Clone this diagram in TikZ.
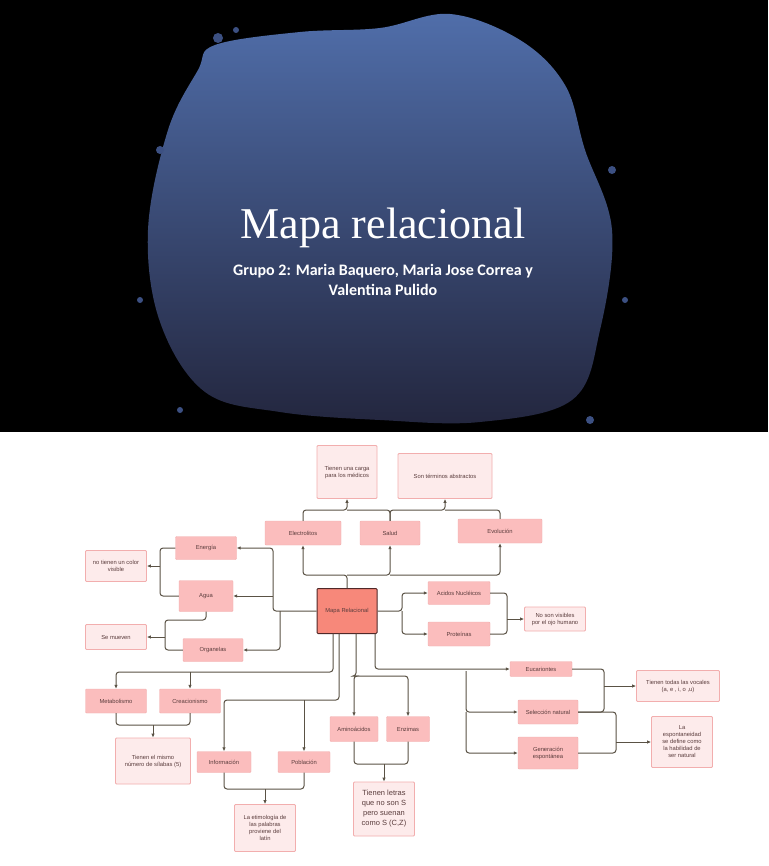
\documentclass[tikz,border=0pt]{standalone}
\usepackage{fontspec}
\setmainfont{Liberation Serif}
\newfontfamily\subf{Carlito}
\newfontfamily\mapf{Liberation Sans}
\usetikzlibrary{arrows.meta}
\definecolor{bfill}{HTML}{FBBDBD}
\definecolor{lfill}{HTML}{FDEBEB}
\definecolor{bdr}{HTML}{F2AEAE}
\definecolor{lne}{HTML}{5A5245}
\definecolor{txt}{HTML}{5A3C3C}
\definecolor{core}{HTML}{F7887A}
\definecolor{coredr}{HTML}{502828}
\definecolor{blobtop}{HTML}{506EAA}
\definecolor{blobbot}{HTML}{23263E}
\definecolor{speck}{HTML}{3C5082}
\tikzset{
 bx/.style={draw=bdr,fill=bfill,rounded corners=1pt,minimum width=#1,inner sep=1pt,align=center,text=txt,font=\mapf\fontsize{5.8}{7}\selectfont},
 lb/.style={bx=#1,fill=lfill,line width=0.8pt},
 ln/.style={draw=lne,line width=1pt,rounded corners=3pt},
 ar/.style={ln,-{Latex[length=4pt,width=3.5pt]}}
}
\begin{document}
\begin{tikzpicture}[x=1pt,y=-1pt]
\useasboundingbox (0,0) rectangle (768,866);
\fill[black] (0,0) rectangle (768,432);
\shade[top color=blobtop, bottom color=blobbot]
 plot[smooth cycle,tension=0.6] coordinates {(215,45) (300,32) (380,28) (450,14) (520,40) (565,85) (585,150) (612,230) (600,330) (572,400) (480,422) (380,420) (280,412) (205,392) (160,322) (148,230) (168,130) (198,70)};
\foreach \p/\r in {{(218,38)/5},{(236,30)/3},{(160,150)/4},{(612,170)/4},{(140,300)/3},{(625,300)/3},{(590,420)/4},{(180,410)/3}} \fill[speck] \p circle (\r);
\node[text=white,font=\fontsize{44}{48}\selectfont] (title) at (383,228) {Mapa relacional};
\node[text=white,font=\subf\bfseries\fontsize{16}{20}\selectfont,align=center] (sub) at (383,280) {Grupo 2: Maria Baquero, Maria Jose Correa y\\Valentina Pulido};
\fill[white] (0,432) rectangle (768,866);
% nodes
\node[lb=60pt,minimum height=53pt] (carga) at (347,472) {Tienen una carga\\para los médicos};
\node[lb=94pt,minimum height=45pt] (abst) at (445,476) {Son términos abstractos};
\node[bx=76pt,minimum height=24pt] (elec) at (303,533) {Electrolitos};
\node[bx=60pt,minimum height=24pt] (salud) at (390,533) {Salud};
\node[bx=84pt,minimum height=24pt] (evol) at (500,531) {Evolución};
\node[bx=61pt,minimum height=23pt] (ener) at (206,548) {Energía};
\node[lb=61pt,minimum height=31pt] (color) at (116,566) {no tienen un color\\visible};
\node[bx=54pt,minimum height=31pt] (agua) at (206,596) {Agua};
\node[bx=60pt,minimum height=45pt,fill=core,draw=coredr,line width=1pt] (mapa) at (347,611) {Mapa Relacional};
\node[bx=62pt,minimum height=23pt] (acid) at (459,593) {Acidos Nucléicos};
\node[bx=62pt,minimum height=24pt] (prot) at (459,634) {Proteínas};
\node[lb=61pt,minimum height=24pt] (visib) at (555,619) {No son visibles\\por el ojo humano};
\node[lb=61pt,minimum height=25pt] (mueven) at (116,637) {Se mueven};
\node[bx=60pt,minimum height=23pt] (orga) at (213,650) {Organelas};
\node[bx=62pt,minimum height=15pt] (euca) at (541,669) {Eucariontes};
\node[lb=83pt,minimum height=31pt] (vocal) at (678,686) {Tienen todas las vocales\\(a, e , i, o ,u)};
\node[bx=61pt,minimum height=24pt] (meta) at (116,701) {Metabolismo};
\node[bx=61pt,minimum height=24pt] (crea) at (190,701) {Creacionismo};
\node[bx=60pt,minimum height=24pt] (selec) at (548,712) {Selección natural};
\node[lb=61pt,minimum height=51pt] (espo) at (682,742) {La\\espontaneidad\\se define como\\la habilidad de\\ser natural};
\node[bx=48pt,minimum height=25pt] (amino) at (354,729) {Aminoácidos};
\node[bx=43pt,minimum height=25pt] (enzi) at (408,729) {Enzimas};
\node[bx=60pt,minimum height=32pt] (gene) at (548,753) {Generación\\espontánea};
\node[lb=75pt,minimum height=46pt] (silab) at (153,761) {Tienen el mismo\\número de sílabas (5)};
\node[bx=54pt,minimum height=21pt] (info) at (224,762) {Información};
\node[bx=52pt,minimum height=21pt] (pobl) at (304,762) {Población};
\node[lb=61pt,minimum height=54pt,font=\mapf\fontsize{7.5}{10}\selectfont] (letras) at (384,809) {Tienen letras\\que no son S\\pero suenan\\como S (C,Z)};
\node[lb=61pt,minimum height=47pt] (etim) at (265,828) {La etimología de\\las palabras\\proviene del\\latín};
% connectors
\draw[ar] (mapa.north) |- (303,575) -- (elec.south);
\draw[ar] (347,575) -| (salud.south);
\draw[ar] (390,575) -| (evol.south);
\draw[ar] (elec.north) |- (347,510) -- (carga.south);
\draw[ln] (salud.north) |- (347,510);
\draw[ar] (salud.north) |- (445,510) -- (abst.south);
\draw[ln] (evol.north) |- (445,510);
\draw[ar] (mapa.west) -| (273,548) -- (ener.east);
\draw[ar] (273,596) -- (agua.east);
\draw[ar] (280,611) |- (orga.east);
\draw[ln] (ener.west) -| (160,596) -- (agua.west);
\draw[ar] (160,566) -- (color.east);
\draw[ln] (agua.south) |- (165,620) |- (orga.west);
\draw[ar] (165,637) -- (mueven.east);
\draw[ar] (mapa.east) -| (402,593) -- (acid.west);
\draw[ar] (402,611) |- (prot.west);
\draw[ln] (acid.east) -| (507,634) -- (prot.east);
\draw[ar] (507,619) -- (visib.west);
\draw[ar] (333,633.5) |- (116,672) -- (meta.north);
\draw[ar] (190,672) -- (crea.north);
\draw[ar] (339,633.5) |- (224,700) -- (info.north);
\draw[ar] (304,700) -- (pobl.north);
\draw[ar] (356,633.5) |- (354,676) -- (amino.north);
\draw[ar] (356,676) -| (enzi.north);
\draw[ar] (375,633.5) |- (euca.west);
\draw[ar] (466,671) |- (selec.west);
\draw[ar] (466,712) |- (gene.west);
\draw[ln] (meta.south) |- (153,725) -| (crea.south);
\draw[ar] (153,725) -- (silab.north);
\draw[ln] (info.south) |- (265,789) -| (pobl.south);
\draw[ar] (265,789) -- (etim.north);
\draw[ln] (amino.south) |- (384,764) -| (enzi.south);
\draw[ar] (384,764) -- (letras.north);
\draw[ln] (euca.east) -| (604,712) -- (selec.east);
\draw[ar] (604,686) -- (vocal.west);
\draw[ln] (selec.east) -| (616,753) -- (gene.east);
\draw[ar] (616,742) -- (espo.west);
\end{tikzpicture}
\end{document}
